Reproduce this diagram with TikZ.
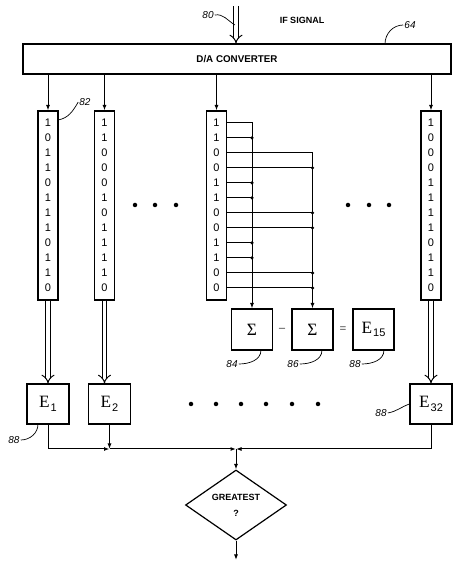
\documentclass[tikz,border=0pt]{standalone}
\usepackage{fontspec}
\setmainfont{Liberation Serif}
\setsansfont{Liberation Sans}
\usetikzlibrary{arrows.meta,shapes.geometric}
\tikzset{
  >={Latex[length=5.5pt,width=4pt]},
  box/.style = {draw, line width=1.2pt, inner sep=0pt},
  reg/.style = {box, minimum width=20pt, minimum height=189pt},
  unit/.style = {box, minimum width=41pt, minimum height=41pt, font=\LARGE},
  evalbox/.style = {box, minimum width=42pt, minimum height=40pt, font=\LARGE},
  bit/.style = {font=\sffamily\fontsize{11}{13}\selectfont, inner sep=0pt},
  bus/.style = {line width=1pt},
  wide/.style = {double, double distance=3.5pt, line width=1pt, -{Implies}},
  tag/.style = {font=\sffamily\itshape\normalsize, inner sep=1pt},
  lead/.style = {line width=0.7pt},
  tap/.style = {circle, fill, inner sep=0pt, minimum size=3.5pt},
  dot/.style = {circle, fill, inner sep=0pt, minimum size=4.5pt},
  caps/.style = {font=\sffamily\bfseries\fontsize{9}{16}\selectfont},
}
\newcommand{\Eidx}[1]{E\kern1pt\raisebox{-0.45ex}{\sffamily\fontsize{11}{13}\selectfont#1}}

\begin{document}
\begin{tikzpicture}[x=1pt,y=1pt]
  \useasboundingbox (0,0) rectangle (474,568);
  %
  \node[box, minimum width=428pt, minimum height=30pt, caps, font=\sffamily\bfseries\fontsize{9.8}{12}\selectfont] (da) at (237,509) {D/A CONVERTER};
  \coordinate (src) at (236,562);
  \draw[wide] (src) to (src |- da.north);
  \node[caps] (ifsig) at (302,548) {IF SIGNAL};
  \node[tag] (t80) at (208,553) {80};
  \coordinate (p80) at (235,543);
  \draw[lead] (t80.east) to[out=10,in=150] (p80);
  \node[tag] (t64) at (410,543) {64};
  \coordinate (p64) at (385,524);
  \draw[lead] (t64.west) to[out=180,in=90] (p64);
  %
  \foreach \r/\x/\bits in {1/48/{1,0,1,1,0,1,1,1,0,1,1,0},
                           2/104.5/{1,1,0,0,0,1,0,1,1,1,1,0},
                           3/216.5/{1,1,0,0,1,1,0,0,1,1,0,0},
                           4/431/{1,0,0,0,1,1,1,1,0,1,1,0}} {
    \node[reg] (reg\r) at (\x,362.5) {};
    \draw[->, bus] (reg\r |- da.south) to (reg\r.north);
    \foreach \b [count=\i] in \bits
      \node[bit] (bit\r-\i) at (\x,{460-15*\i}) {\b};
  }
  \node[tag] (t82) at (85,466) {82};
  \coordinate (p82) at (58,448);
  \draw[lead] (t82.west) to[out=240,in=10] (p82);
  \foreach \x [count=\k] in {135,155,176}
    \node[dot] (gapA\k) at (\x,363) {};
  \foreach \x [count=\k] in {348,369,389}
    \node[dot] (gapB\k) at (\x,363) {};
  %
  \node[unit] (sumA) at (252,238.5) {Σ};
  \node[unit] (sumB) at (312.5,238.5) {Σ};
  \node[unit] (e15) at (373.5,238.5) {\Eidx{15}};
  \node[font=\large] (minus) at (282,238.5) {--};
  \node[font=\large] (equal) at (343,238.5) {=};
  \draw[->, bus] (reg3.east |- bit3-1) -| (sumA);
  \draw[->, bus] (reg3.east |- bit3-3) -| (sumB);
  \foreach \i in {2,5,6,9,10}
    \draw[bus] (reg3.east |- bit3-\i) to (sumA |- bit3-\i) node[tap] {};
  \foreach \i in {4,7,8,11,12}
    \draw[bus] (reg3.east |- bit3-\i) to (sumB |- bit3-\i) node[tap] {};
  \node[tag] (t84) at (232,204) {84};
  \node[tag] (t86) at (293,204) {86};
  \node[tag] (t88a) at (355,204) {88};
  \coordinate (p84) at (261,218);
  \coordinate (p86) at (322,218);
  \coordinate (p88a) at (384,218);
  \draw[lead] (t84.east) to[out=0,in=-90] (p84);
  \draw[lead] (t86.east) to[out=0,in=-90] (p86);
  \draw[lead] (t88a.east) to[out=0,in=-90] (p88a);
  %
  \node[evalbox] (E1) at (48,164) {\Eidx{1}};
  \node[evalbox] (E2) at (109.5,164) {\Eidx{2}};
  \node[evalbox] (E32) at (431,164) {\Eidx{32}};
  \foreach \r/\e in {1/E1,2/E2,4/E32}
    \draw[wide] (reg\r.south) to (reg\r.south |- \e.north);
  \foreach \x [count=\k] in {191,216,241,266,292,318}
    \node[dot] (gapC\k) at (\x,164) {};
  \node[tag] (t88b) at (14,128) {88};
  \coordinate (p88b) at (38,144);
  \draw[lead] (t88b.east) to[out=0,in=-90] (p88b);
  \node[tag] (t88c) at (381,155) {88};
  \draw[lead] (t88c.east) to[out=10,in=200] (E32.west);
  %
  \coordinate (join) at (236,119);
  \coordinate (tapB) at (E2.south |- join);
  \draw[->, bus] (E1.south) |- (tapB);
  \draw[->, bus] (E2.south) to (tapB);
  \draw[->, bus] (tapB) to (join);
  \draw[->, bus] (E32.south) |- (join);
  \node[diamond, draw, line width=1.2pt, minimum width=101pt, minimum height=70pt,
        inner sep=0pt, aspect=1.44, caps, align=center] (best) at (236,63) {GREATEST\\?};
  \draw[->, bus] (join) to (best.north);
  \coordinate (out) at (236,8);
  \draw[->, bus] (best.south) to (out);
\end{tikzpicture}
\end{document}
